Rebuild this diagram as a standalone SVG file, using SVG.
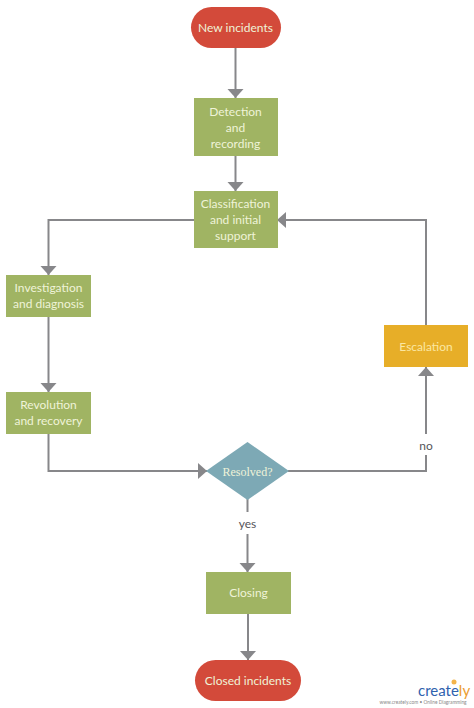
<svg xmlns="http://www.w3.org/2000/svg" width="474" height="708" viewBox="0 0 474 708">
<style>
text{font-family:Lato,"Liberation Sans",sans-serif;font-size:12px;text-anchor:middle;fill:#eff3d8}
.g{fill:#a0b463}.r{fill:#d34a3a}.y{fill:#e7ae28}.t{fill:#7da9b5}
.c{fill:none;stroke:#87878a;stroke-width:2}
.l{fill:#55555a}
</style>
<defs><marker id="a" markerUnits="userSpaceOnUse" markerWidth="10" markerHeight="17" refX="9" refY="8.500" orient="auto"><path d="M0 0.500L9 8.500L0 16.500Z" fill="#87878a"/></marker></defs>
<rect width="474" height="708" fill="#fff"/>
<g id="connectors">
<path class="c" d="M235.500 48V98" marker-end="url(#a)"/>
<path class="c" d="M235.500 156V191" marker-end="url(#a)"/>
<path class="c" d="M194 220H48.500V275" marker-end="url(#a)"/>
<path class="c" d="M48.500 317V392" marker-end="url(#a)"/>
<path class="c" d="M48.500 434V471H207" marker-end="url(#a)"/>
<path class="c" d="M288 471H426V455M426 434V367" marker-end="url(#a)"/>
<path class="c" d="M426 325V220H277" marker-end="url(#a)"/>
<path class="c" d="M247.500 499V512M247.500 534V572" marker-end="url(#a)"/>
<path class="c" d="M248 614V660" marker-end="url(#a)"/>
</g>
<g id="n1"><rect class="r" x="191" y="7" width="90" height="41" rx="20.500"/><text x="235.500" y="32">New incidents</text></g>
<g id="n2"><rect class="g" x="194" y="98" width="84" height="58"/><text x="235.500" y="116">Detection</text><text x="235.500" y="132">and</text><text x="235.500" y="148">recording</text></g>
<g id="n3"><rect class="g" x="194" y="191" width="84" height="57"/><text x="235.500" y="208">Classification</text><text x="235.500" y="224">and initial</text><text x="235.500" y="240">support</text></g>
<g id="n4"><rect class="g" x="6" y="275" width="85" height="42"/><text x="48.500" y="292">Investigation</text><text x="48.500" y="308">and diagnosis</text></g>
<g id="n5"><rect class="g" x="6" y="392" width="85" height="42"/><text x="48.500" y="409">Revolution</text><text x="48.500" y="425">and recovery</text></g>
<g id="n6"><path class="t" d="M247.500 442L289 471L247.500 500L206 471Z"/><text x="247.500" y="476" style="font-family:'Liberation Serif',serif;font-size:12px">Resolved?</text></g>
<g id="n7"><rect class="y" x="384" y="325" width="84" height="42"/><text x="426" y="351" style="fill:#fbe7a2">Escalation</text></g>
<g id="n8"><rect class="g" x="206" y="572" width="85" height="42"/><text x="248.500" y="597">Closing</text></g>
<g id="n9"><rect class="r" x="195" y="660" width="106" height="41" rx="20.500"/><text x="248" y="685">Closed incidents</text></g>
<g id="labels"><text class="l" x="426" y="450">no</text><text class="l" x="247.500" y="528">yes</text></g>
<g id="logo"><circle cx="454" cy="682" r="2.500" fill="#f3b44a"/><text x="418" y="696" style="font-size:15px;text-anchor:start;fill:#2f62ae">create<tspan fill="#ec9d32">ly</tspan></text><text x="423" y="704" style="font-size:4.800px;fill:#8a8a8a">www.creately.com • Online Diagramming</text></g>
</svg>
